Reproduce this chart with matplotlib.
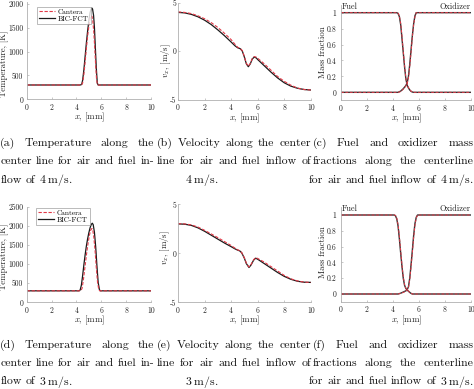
import matplotlib
matplotlib.use("Agg")
import matplotlib.pyplot as plt
from matplotlib.lines import Line2D

plt.rcParams['font.family'] = ['cmr10', 'DejaVu Serif']
plt.rcParams['mathtext.fontset'] = 'cm'
plt.rcParams['axes.formatter.use_mathtext'] = True
plt.rcParams['axes.unicode_minus'] = False

W, H = 474, 389
RED = '#e23a48'
BLK = '#1a1a1a'

# ---------------- data ----------------
# (a) temperature, 4 m/s
xa_bic = [0, 4.3, 4.42, 4.5, 4.6, 4.7, 4.8, 4.9, 5.0, 5.1, 5.2, 5.25, 5.3, 5.38, 5.45, 5.52, 5.6, 5.68, 5.75, 10]
Ta_bic = [300, 300, 310, 400, 620, 900, 1180, 1430, 1650, 1820, 1905, 1912, 1890, 1760, 1500, 1100, 650, 340, 300, 300]
xa_can = [0, 4.4, 4.5, 4.6, 4.7, 4.8, 4.9, 5.0, 5.1, 5.18, 5.25, 5.32, 5.4, 5.48, 5.55, 5.62, 5.7, 10]
Ta_can = [300, 300, 340, 520, 780, 1060, 1320, 1530, 1690, 1750, 1740, 1640, 1400, 1050, 700, 420, 300, 300]
# (d) temperature, 3 m/s
xd_bic = [0, 4.2, 4.3, 4.4, 4.5, 4.6, 4.7, 4.8, 4.9, 5.0, 5.1, 5.2, 5.28, 5.35, 5.45, 5.55, 5.65, 5.75, 5.85, 5.92, 10]
Td_bic = [300, 300, 320, 450, 700, 980, 1240, 1470, 1660, 1820, 1950, 2040, 2068, 2030, 1830, 1450, 950, 520, 330, 300, 300]
xd_can = [0, 4.35, 4.45, 4.55, 4.65, 4.75, 4.85, 4.95, 5.05, 5.15, 5.25, 5.32, 5.4, 5.5, 5.6, 5.7, 5.8, 5.88, 10]
Td_can = [300, 300, 360, 560, 820, 1090, 1350, 1570, 1760, 1890, 1930, 1880, 1700, 1350, 900, 520, 330, 300, 300]

# (b) velocity, 4 m/s
xb_bic = [0, 0.5, 1, 1.5, 2, 2.5, 3, 3.5, 4, 4.3, 4.5, 4.7, 4.85, 5.0, 5.15, 5.3, 5.45, 5.6, 5.75, 5.9, 6.0, 6.5, 7, 7.5, 8, 8.5, 9, 9.5, 10]
vb_bic = [4.0, 3.95, 3.8, 3.55, 3.2, 2.75, 2.2, 1.6, 0.95, 0.55, 0.35, 0.25, 0.0, -0.6, -1.3, -1.6, -1.3, -0.8, -0.6, -0.7, -0.85, -1.5, -2.15, -2.75, -3.25, -3.6, -3.82, -3.95, -4.0]
xb_can = [0, 0.5, 1, 1.5, 2, 2.5, 3, 3.5, 4, 4.3, 4.5, 4.7, 4.85, 5.0, 5.15, 5.3, 5.45, 5.6, 5.75, 5.9, 6.0, 6.5, 7, 7.5, 8, 8.5, 9, 9.5, 10]
vb_can = [4.05, 4.0, 3.88, 3.65, 3.35, 2.95, 2.45, 1.85, 1.2, 0.7, 0.4, 0.27, 0.05, -0.55, -1.25, -1.55, -1.25, -0.75, -0.55, -0.62, -0.72, -1.3, -1.95, -2.6, -3.1, -3.5, -3.8, -3.95, -4.0]
# (e) velocity, 3 m/s
xe_bic = [0, 0.5, 1, 1.5, 2, 2.5, 3, 3.5, 4, 4.3, 4.5, 4.65, 4.8, 5.0, 5.15, 5.35, 5.5, 5.7, 5.85, 6.0, 6.5, 7, 7.5, 8, 8.5, 9, 9.5, 10]
ve_bic = [3.0, 2.97, 2.85, 2.6, 2.25, 1.85, 1.45, 1.05, 0.68, 0.45, 0.32, 0.25, 0.05, -0.5, -1.05, -1.45, -1.2, -0.7, -0.5, -0.6, -1.05, -1.5, -1.95, -2.35, -2.65, -2.85, -2.95, -2.97]
xe_can = [0, 0.5, 1, 1.5, 2, 2.5, 3, 3.5, 4, 4.3, 4.5, 4.65, 4.8, 5.0, 5.15, 5.35, 5.5, 5.7, 5.85, 6.0, 6.5, 7, 7.5, 8, 8.5, 9, 9.5, 10]
ve_can = [3.02, 3.0, 2.9, 2.68, 2.35, 1.98, 1.6, 1.2, 0.8, 0.52, 0.35, 0.27, 0.08, -0.45, -1.0, -1.4, -1.15, -0.65, -0.45, -0.52, -0.9, -1.35, -1.8, -2.25, -2.6, -2.82, -2.94, -2.97]

# (c) mass fractions, 4 m/s
xc_f = [0, 4.3, 4.4, 4.5, 4.6, 4.7, 4.8, 4.9, 5.0, 5.1, 5.2, 5.3, 5.4, 5.5, 5.6, 10]
Yc_f_bic = [1, 1, 0.99, 0.95, 0.85, 0.68, 0.5, 0.32, 0.17, 0.09, 0.055, 0.03, 0.013, 0.004, 0, 0]
Yc_f_can = [1, 1, 0.995, 0.96, 0.87, 0.71, 0.52, 0.34, 0.18, 0.1, 0.06, 0.035, 0.015, 0.005, 0, 0]
xc_o = [0, 4.4, 4.6, 4.8, 5.0, 5.1, 5.2, 5.3, 5.4, 5.5, 5.6, 5.7, 5.8, 10]
Yc_o_bic = [0, 0, 0.015, 0.045, 0.085, 0.12, 0.2, 0.35, 0.53, 0.71, 0.86, 0.96, 1.0, 1.0]
Yc_o_can = [0, 0, 0.01, 0.04, 0.08, 0.11, 0.18, 0.32, 0.5, 0.69, 0.85, 0.95, 1.0, 1.0]
# (f) mass fractions, 3 m/s
xf_f = [0, 4.1, 4.2, 4.3, 4.4, 4.5, 4.6, 4.7, 4.8, 4.9, 5.0, 5.1, 5.2, 5.3, 5.4, 5.5, 10]
Yf_f_bic = [1, 1, 0.99, 0.95, 0.86, 0.7, 0.52, 0.35, 0.2, 0.11, 0.07, 0.05, 0.035, 0.02, 0.008, 0, 0]
Yf_f_can = [1, 1, 0.995, 0.96, 0.88, 0.73, 0.55, 0.37, 0.22, 0.12, 0.075, 0.052, 0.037, 0.022, 0.01, 0, 0]
xf_o = [0, 4.4, 4.6, 4.8, 5.0, 5.1, 5.2, 5.3, 5.4, 5.5, 5.6, 5.7, 5.8, 5.9, 10]
Yf_o_bic = [0, 0, 0.01, 0.025, 0.04, 0.055, 0.09, 0.2, 0.37, 0.55, 0.74, 0.89, 0.97, 1, 1]
Yf_o_can = [0, 0, 0.008, 0.02, 0.035, 0.05, 0.08, 0.18, 0.34, 0.52, 0.71, 0.87, 0.96, 1, 1]

xticks = [0, 2, 4, 6, 8, 10]
xticklabels = ['0', '2', '4', '6', '8', '10']
Tticks_a = [0, 500, 1000, 1500, 2000]
Tticks_d = [0, 500, 1000, 1500, 2000, 2500]
vticks = [-5, 0, 5]
vticklabels = ['-5', '0', '5']
Yticks = [0, 0.2, 0.4, 0.6, 0.8, 1]
Yticklabels = ['0', '0.2', '0.4', '0.6', '0.8', '1']

U4 = '$4\\;\\mathrm{m/s}$.'
U3 = '$3\\;\\mathrm{m/s}$.'
captions_top = [
    (['(a) Temperature along the', 'center line for air and fuel in-'], ['flow', 'of', U4]),
    (['(b) Velocity along the center', 'line for air and fuel inflow of'], [U4]),
    (['(c) Fuel and oxidizer mass', 'fractions along the centerline'], ['for', 'air', 'and', 'fuel', 'inflow', 'of', U4]),
]
captions_bot = [
    (['(d) Temperature along the', 'center line for air and fuel in-'], ['flow', 'of', U3]),
    (['(e) Velocity along the center', 'line for air and fuel inflow of'], [U3]),
    (['(f) Fuel and oxidizer mass', 'fractions along the centerline'], ['for', 'air', 'and', 'fuel', 'inflow', 'of', U3]),
]

# ---------------- figure ----------------
fig = plt.figure(figsize=(W / 100, H / 100), dpi=100)
TICK = 5.5


def make_ax(l, r, t, b):
    ax = fig.add_axes([l / W, 1 - b / H, (r - l) / W, (b - t) / H])
    for s in ('top', 'right'):
        ax.spines[s].set_visible(False)
    for s in ('left', 'bottom'):
        ax.spines[s].set_color('#b0b0b0')
        ax.spines[s].set_linewidth(0.6)
    ax.set_xlim(0, 10)
    ax.set_xticks(xticks)
    ax.set_xticklabels(xticklabels)
    ax.tick_params(axis='both', labelsize=TICK, length=1.5, direction='in',
                   color='#b0b0b0', width=0.5, labelcolor='#222222')
    ax.tick_params(axis='x', pad=3.0)
    ax.patch.set_alpha(0)
    return ax


def ylab(ax, text, xpx, ypx):
    ax.set_ylabel(text, fontsize=6.3, color='#222222', va='center', ha='center')
    ax.yaxis.set_label_coords(xpx / W, 1 - ypx / H, transform=fig.transFigure)


def xlab(ax, ypx, xpx):
    ax.set_xlabel('$x$, [mm]', fontsize=6.3, color='#222222', va='center', ha='center')
    ax.xaxis.set_label_coords(xpx / W, 1 - ypx / H, transform=fig.transFigure)


def legend(ax, xpx, ypx):
    h = [Line2D([], [], color=RED, lw=0.8, ls=(0, (3, 1.5))),
         Line2D([], [], color=BLK, lw=0.9)]
    lg = ax.legend(h, ['Cantera', 'BIC-FCT'], loc='upper left',
                   bbox_to_anchor=(xpx / W, 1 - ypx / H), bbox_transform=fig.transFigure,
                   fontsize=5.3, frameon=True, fancybox=False, borderpad=0.25,
                   handlelength=2.2, handletextpad=0.4, labelspacing=0.1, borderaxespad=0)
    lg.get_frame().set_edgecolor('#888888')
    lg.get_frame().set_linewidth(0.5)


# (a)
ax = make_ax(26.7, 151, 2, 99.3)
ax.plot(xa_bic, Ta_bic, color=BLK, lw=0.9)
ax.plot(xa_can, Ta_can, color=RED, lw=0.8, ls=(0, (3, 1.5)))
ax.set_ylim(0, 2040)
ax.set_yticks(Tticks_a)
ax.set_yticklabels([str(v) for v in Tticks_a])
ax.tick_params(axis='y', pad=2.6)
ylab(ax, 'Temperature, [K]', 4.2, 64)
xlab(ax, 117.6, 89)
legend(ax, 37, 7)

# (d)
ax = make_ax(26.7, 151, 206.7, 302.3)
ax.plot(xd_bic, Td_bic, color=BLK, lw=0.9)
ax.plot(xd_can, Td_can, color=RED, lw=0.8, ls=(0, (3, 1.5)))
ax.set_ylim(0, 2500)
ax.set_yticks(Tticks_d)
ax.set_yticklabels([str(v) for v in Tticks_d])
ax.tick_params(axis='y', pad=2.6)
ylab(ax, 'Temperature, [K]', 4.2, 257)
xlab(ax, 320.5, 89)
legend(ax, 36, 208)

# (b)
ax = make_ax(178, 310.7, 2.7, 99.7)
ax.plot(xb_bic, vb_bic, color=BLK, lw=0.9)
ax.plot(xb_can, vb_can, color=RED, lw=0.8, ls=(0, (3, 1.5)))
ax.set_ylim(-5, 5)
ax.set_yticks(vticks)
ax.set_yticklabels(vticklabels)
ax.tick_params(axis='y', pad=1.2)
ylab(ax, '$v_x$, [m/s]', 166.2, 61)
xlab(ax, 118, 244)

# (e)
ax = make_ax(178, 310.7, 204.3, 302.3)
ax.plot(xe_bic, ve_bic, color=BLK, lw=0.9)
ax.plot(xe_can, ve_can, color=RED, lw=0.8, ls=(0, (3, 1.5)))
ax.set_ylim(-5, 5)
ax.set_yticks(vticks)
ax.set_yticklabels(vticklabels)
ax.tick_params(axis='y', pad=1.2)
ylab(ax, '$v_x$, [m/s]', 165.5, 248)
xlab(ax, 320.5, 244)

# (c)
ax = make_ax(341, 470.7, 4.7, 100.3)
ax.plot(xc_f, Yc_f_bic, color='#333333', lw=1.0)
ax.plot(xc_o, Yc_o_bic, color='#333333', lw=1.0)
ax.plot(xc_f, Yc_f_can, color=RED, lw=0.7, ls=(0, (3, 1.5)))
ax.plot(xc_o, Yc_o_can, color=RED, lw=0.7, ls=(0, (3, 1.5)))
ax.set_ylim(-0.1, 1.1)
ax.set_yticks(Yticks)
ax.set_yticklabels(Yticklabels)
ax.tick_params(axis='y', pad=3.4)
ax.text(0.08, 1.072, 'Fuel', fontsize=6, ha='left', va='center', color='#222222')
ax.text(9.95, 1.072, 'Oxidizer', fontsize=6, ha='right', va='center', color='#222222')
ylab(ax, 'Mass fraction', 322.5, 52)
xlab(ax, 118.5, 406)

# (f)
ax = make_ax(341, 470.7, 207.1, 301.9)
ax.plot(xf_f, Yf_f_bic, color='#333333', lw=1.0)
ax.plot(xf_o, Yf_o_bic, color='#333333', lw=1.0)
ax.plot(xf_f, Yf_f_can, color=RED, lw=0.7, ls=(0, (3, 1.5)))
ax.plot(xf_o, Yf_o_can, color=RED, lw=0.7, ls=(0, (3, 1.5)))
ax.set_ylim(-0.1, 1.1)
ax.set_yticks(Yticks)
ax.set_yticklabels(Yticklabels)
ax.tick_params(axis='y', pad=3.4)
ax.text(0.08, 1.075, 'Fuel', fontsize=6, ha='left', va='center', color='#222222')
ax.text(9.95, 1.075, 'Oxidizer', fontsize=6, ha='right', va='center', color='#222222')
ylab(ax, 'Mass fraction', 322.5, 252.5)
xlab(ax, 320.5, 406)

# ---------------- captions ----------------
renderer = fig.canvas.get_renderer()


def word_widths(words, size):
    out = []
    for w in words:
        t = fig.text(0, 0, w, fontsize=size)
        out.append(t.get_window_extent(renderer).width)
        t.remove()
    return out


# choose caption size so that a naturally spaced line fills its column
ref_words = 'center line for air and fuel in-'.split(' ')
k = sum(word_widths(ref_words, 10.0)) / 10.0
SP = 0.333 * 100 / 72  # inter-word space per point of size, px
CAP = 153.5 / (k + SP * (len(ref_words) - 1))
CAP = min(max(CAP, 7.5), 10.5)
space = SP * CAP


def place(words, x0, ybase, gap):
    ws = word_widths(words, CAP)
    x = x0
    for w, wd in zip(words, ws):
        fig.text(x / W, 1 - ybase / H, w, fontsize=CAP, color='#111111', va='baseline', ha='left')
        x += wd + gap


def justify(line, x0, x1, ybase):
    words = line.split(' ')
    ws = word_widths(words, CAP)
    gap = (x1 - x0 - sum(ws)) / max(len(words) - 1, 1)
    place(words, x0, ybase, gap)


col_x = [(0.3, 154), (157, 311), (312.5, 473.3)]
last_x = [0.3, 185, None]


def captions(caps, bases):
    for i, (full, last) in enumerate(caps):
        x0, x1 = col_x[i]
        for j, line in enumerate(full):
            justify(line, x0, x1, bases[j])
        if last_x[i] is None:
            ws = word_widths(last, CAP)
            natural = sum(ws) + space * (len(last) - 1)
            place(last, x1 - natural, bases[2], space)
        else:
            place(last, last_x[i], bases[2], space)


captions(captions_top, [146, 164.5, 183])
captions(captions_bot, [348, 366.5, 384.5])

fig.savefig('out.png', dpi=100)
